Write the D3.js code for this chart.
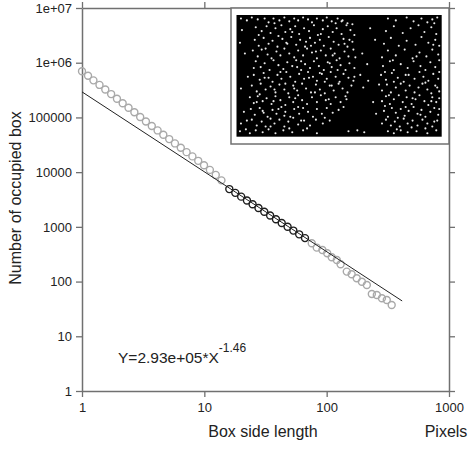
<!DOCTYPE html>
<html>
<head>
<meta charset="utf-8">
<script src="https://cdn.jsdelivr.net/npm/d3@7"></script>
<style>
  body { margin: 0; background: #fff; }
  text { font-family: "Liberation Sans", Arial, sans-serif; }
</style>
</head>
<body>
<script>
// box side length (pixels) and number of occupied boxes
var boxSize = [1.00, 1.12, 1.24, 1.39, 1.55, 1.73, 1.93, 2.15, 2.40, 2.68,
    2.99, 3.33, 3.72, 4.15, 4.62, 5.16, 5.75, 6.42, 7.16, 7.99,
    8.91, 9.94, 11.1, 12.4, 13.8,
    16.0, 17.9, 20.0, 22.3, 24.8, 27.7, 30.9, 34.5, 38.5, 42.9, 47.9, 53.4, 59.6, 66.5,
    75.5, 83.0, 92.3, 101, 110, 121, 130, 146, 160, 176, 194, 213, 234, 257, 283, 310, 340];
var boxCount = [700000, 577000, 476000, 393000, 324000, 267000, 220000, 182000, 150000, 124000,
    102000, 84100, 69500, 57900, 48200, 40200, 33500, 27900, 23200, 19400,
    16100, 13400, 11000, 8900, 7080,
    4900, 4180, 3565, 3040, 2597, 2218, 1892, 1614, 1377, 1175, 1003, 855, 730, 623,
    501, 417, 378, 329, 278, 248, 207, 152, 136, 115, 99.5, 86.7, 59.3, 56.9, 49.5, 46.1, 37.3];

// range of box sizes used for the fit (drawn black)
var fitRange = [15, 70];
var fitA = 2.93e5;
var fitB = -1.46;
var fitLineX = [1, 414];

var xTicks = [1, 10, 100, 1000];
var xTickLabels = ["1", "10", "100", "1000"];
var yTicks = [1, 10, 100, 1000, 10000, 100000, 1e6, 1e7];
var yTickLabels = ["1", "10", "100", "1000", "10000", "100000", "1e+06", "1e+07"];

// white points of the inset picture, x/y in picture pixels (205 x 122)
var insetDots = [
    3,2, 9,4, 14,1, 20,3, 27,2, 31,6, 36,2, 42,4, 47,1, 52,5, 57,2, 61,4, 66,1, 71,3, 75,6, 80,2, 86,4, 90,1, 95,5, 101,2, 106,4, 111,7,
    152,2, 160,4, 171,1, 178,5, 186,2, 192,6, 197,3, 202,1, 199,7,
    4,14, 18,11, 24,15, 29,10, 33,17, 38,12, 44,9, 48,16, 53,13, 58,10, 62,18, 67,12, 72,15, 77,9, 81,19, 86,13, 91,10, 96,16, 100,12, 105,18, 110,9, 114,14, 118,19,
    134,12, 150,15, 158,10, 167,17, 175,12, 183,9, 189,16, 196,11, 201,18,
    2,27, 17,24, 21,30, 26,22, 31,28, 35,25, 40,31, 45,23, 49,27, 54,21, 59,29, 63,24, 68,31, 73,22, 78,27, 83,24, 87,30, 92,21, 97,26, 102,29, 107,23, 111,31, 116,26,
    139,24, 148,28, 155,22, 163,30, 171,25, 180,29, 186,21, 193,27, 200,24, 204,30,
    7,38, 15,35, 20,41, 24,34, 30,39, 34,43, 39,36, 43,40, 47,33, 52,38, 57,42, 61,35, 66,40, 70,33, 75,37, 80,43, 84,35, 89,40, 94,33, 98,38, 103,43, 108,36, 112,41, 117,34,
    126,38, 146,42, 152,35, 160,40, 169,34, 177,43, 184,37, 191,41, 197,34, 203,39,
    18,46, 23,52, 27,48, 32,55, 36,45, 41,50, 46,54, 50,47, 55,51, 59,45, 64,55, 68,49, 73,53, 77,46, 82,51, 87,55, 91,47, 95,52, 100,45, 104,50, 109,55, 113,48, 118,53,
    131,49, 147,51, 154,46, 158,55, 165,49, 172,53, 178,46, 185,51, 190,55, 195,47, 200,52, 204,45,
    10,62, 16,60, 22,65, 26,58, 31,63, 35,67, 40,60, 44,64, 49,57, 53,62, 58,67, 62,59, 67,64, 71,57, 76,62, 80,66, 85,59, 90,64, 94,57, 99,62, 103,67, 107,59, 112,63, 117,66,
    132,66, 145,60, 150,65, 156,58, 162,63, 168,67, 173,60, 179,64, 184,57, 188,62, 193,66, 198,59, 203,64,
    3,74, 14,71, 19,77, 23,69, 28,75, 33,72, 38,78, 42,70, 47,75, 51,79, 56,71, 60,76, 65,69, 69,74, 74,78, 79,70, 83,75, 88,79, 93,71, 97,76, 102,69, 106,74, 111,78,
    127,73, 146,76, 151,70, 155,78, 160,73, 165,69, 170,76, 174,71, 179,78, 183,73, 187,69, 192,75, 196,79, 200,71, 204,77,
    12,83, 16,89, 20,82, 25,87, 29,84, 34,90, 38,82, 43,86, 48,91, 52,83, 56,88, 61,81, 65,86, 70,90, 75,83, 80,88, 84,81, 89,86, 94,90, 99,83, 104,88, 109,82,
    146,87, 150,82, 154,90, 158,85, 163,81, 167,88, 171,83, 176,90, 180,85, 184,81, 189,87, 193,91, 197,83, 201,88, 204,84,
    6,98, 13,95, 17,101, 22,94, 26,99, 30,103, 35,96, 39,100, 44,93, 48,98, 53,103, 57,95, 62,100, 66,94, 71,98, 76,103, 80,95, 85,100, 90,94, 96,99, 102,96,
    140,100, 148,97, 152,103, 156,94, 160,99, 165,95, 169,102, 173,97, 178,93, 182,100, 186,96, 190,103, 195,98, 199,94, 203,101,
    3,110, 9,107, 14,106, 19,112, 24,108, 28,113, 33,105, 37,110, 42,106, 47,113, 51,108, 56,104, 61,111, 67,107, 73,112, 79,106, 86,110, 93,107,
    146,110, 150,106, 155,112, 159,108, 164,113, 168,105, 172,110, 177,107, 182,112, 187,106, 192,110, 197,113, 202,107,
    2,118, 8,116, 12,120, 18,117, 25,119, 31,116, 38,120, 46,117, 55,119, 66,117, 80,120,
    112,118, 121,117, 128,119, 152,118, 158,120, 165,117, 172,119, 181,118, 192,120, 201,117,
    // second pass, denser patches
    21,19, 37,7, 55,16, 69,26, 84,18, 99,7, 113,24, 28,33, 50,28, 64,46, 79,36, 93,48, 108,28, 119,42,
    16,53, 43,57, 57,74, 72,63, 88,67, 101,55, 115,71, 22,80, 36,87, 61,93, 78,78, 92,85, 107,93, 118,62,
    25,97, 47,102, 64,107, 88,104, 33,113, 52,115, 70,115, 105,5, 116,8, 41,20, 74,30, 96,40, 60,52, 83,58,
    27,63, 48,69, 37,75, 95,71, 110,85, 19,88, 41,95, 58,84,
    157,45, 181,41, 198,29, 149,57, 170,60, 190,68, 204,57, 158,67, 177,84, 196,87, 149,92, 162,104,
    185,101, 204,95, 153,81, 170,93, 190,115, 176,114, 199,108, 161,116, 202,73, 143,70, 124,60, 137,88
];

var width = 474, height = 454;
var margin = {top: 8, right: 25, bottom: 63, left: 82};

var svg = d3.select("body").append("svg")
    .attr("width", width)
    .attr("height", height);

var x = d3.scaleLog()
    .domain([1, 1000])
    .range([margin.left, width - margin.right]);

var y = d3.scaleLog()
    .domain([1, 1e7])
    .range([height - margin.bottom, margin.top]);

var axisColor = "#707070";

function styleAxis(g) {
    g.select(".domain").attr("stroke", axisColor).attr("stroke-width", 1.5);
    g.selectAll(".tick line").attr("stroke", axisColor).attr("stroke-width", 1.3);
    g.selectAll(".tick text")
        .attr("fill", "#222")
        .style("font-size", "13px")
        .style("font-family", "Liberation Sans, Arial, sans-serif");
}

// frame: top and right axes without labels
svg.append("g")
    .attr("transform", "translate(0," + margin.top + ")")
    .call(d3.axisTop(x).tickValues(xTicks).tickFormat("").tickSize(6).tickSizeOuter(0))
    .call(styleAxis);

svg.append("g")
    .attr("transform", "translate(" + (width - margin.right) + ",0)")
    .call(d3.axisRight(y).tickValues(yTicks).tickFormat("").tickSize(6).tickSizeOuter(0))
    .call(styleAxis);

svg.append("g")
    .attr("transform", "translate(0," + (height - margin.bottom) + ")")
    .call(d3.axisBottom(x).tickValues(xTicks)
        .tickFormat(function (d, i) { return xTickLabels[i]; })
        .tickSize(6).tickPadding(6).tickSizeOuter(0))
    .call(styleAxis);

svg.append("g")
    .attr("transform", "translate(" + margin.left + ",0)")
    .call(d3.axisLeft(y).tickValues(yTicks)
        .tickFormat(function (d, i) { return yTickLabels[i]; })
        .tickSize(6).tickPadding(4).tickSizeOuter(0))
    .call(styleAxis);

// inset picture in the top right corner
var inset = {x0: 231, y0: 8, x1: 449, y1: 144};
var pic = {x0: 236.5, y0: 15, x1: 441.7, y1: 136.7};

svg.append("rect")
    .attr("x", inset.x0)
    .attr("y", inset.y0)
    .attr("width", inset.x1 - inset.x0)
    .attr("height", inset.y1 - inset.y0)
    .attr("fill", "#fff")
    .attr("stroke", axisColor)
    .attr("stroke-width", 1.5);

svg.append("rect")
    .attr("x", pic.x0)
    .attr("y", pic.y0)
    .attr("width", pic.x1 - pic.x0)
    .attr("height", pic.y1 - pic.y0)
    .attr("fill", "#000");

var px = d3.scaleLinear().domain([0, 205]).range([pic.x0 + 1.5, pic.x1 - 1.5]);
var py = d3.scaleLinear().domain([0, 122]).range([pic.y0 + 1.5, pic.y1 - 1.5]);

var dots = [];
var i;
for (i = 0; i < insetDots.length; i += 2) {
    dots.push([insetDots[i], insetDots[i + 1]]);
}

svg.append("g")
    .selectAll("circle")
    .data(dots)
    .enter().append("circle")
    .attr("cx", function (d) { return px(d[0]); })
    .attr("cy", function (d) { return py(d[1]); })
    .attr("r", 1.05)
    .attr("fill", "#e8e8e8");

// data circles
var points = boxSize.map(function (d, i) {
    return {x: d, y: boxCount[i], fit: d >= fitRange[0] && d <= fitRange[1]};
});

svg.append("g")
    .selectAll("circle")
    .data(points)
    .enter().append("circle")
    .attr("cx", function (d) { return x(d.x); })
    .attr("cy", function (d) { return y(d.y); })
    .attr("r", 3.5)
    .attr("fill", "none")
    .attr("stroke", function (d) { return d.fit ? "#1e1e1e" : "#a9a9a9"; })
    .attr("stroke-width", 1.4);

// fitted power law
svg.append("line")
    .attr("x1", x(fitLineX[0]))
    .attr("y1", y(fitA * Math.pow(fitLineX[0], fitB)))
    .attr("x2", x(fitLineX[1]))
    .attr("y2", y(fitA * Math.pow(fitLineX[1], fitB)))
    .attr("stroke", "#222")
    .attr("stroke-width", 1);

var eq = svg.append("text")
    .attr("x", 118)
    .attr("y", 363)
    .attr("fill", "#222")
    .style("font-size", "15.5px");
eq.append("tspan").text("Y=2.93e+05*X");
eq.append("tspan")
    .attr("dy", -11)
    .style("font-size", "12px")
    .text("-1.46");

// axis titles
svg.append("text")
    .attr("x", 263)
    .attr("y", 437)
    .attr("text-anchor", "middle")
    .attr("fill", "#222")
    .style("font-size", "16px")
    .text("Box side length");

svg.append("text")
    .attr("x", 446)
    .attr("y", 437)
    .attr("text-anchor", "middle")
    .attr("fill", "#222")
    .style("font-size", "16px")
    .text("Pixels");

svg.append("text")
    .attr("transform", "translate(21,198) rotate(-90)")
    .attr("text-anchor", "middle")
    .attr("fill", "#222")
    .style("font-size", "16px")
    .text("Number of occupied box");
</script>
</body>
</html>
